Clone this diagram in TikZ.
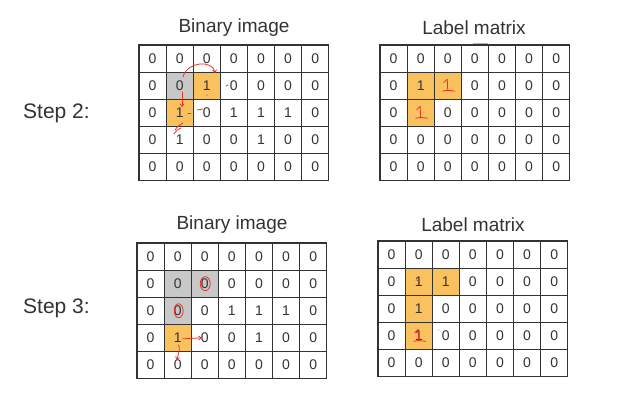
\documentclass[tikz,border=0pt]{standalone}
\usepackage{fontspec}
\setmainfont{Liberation Sans}
\usetikzlibrary{arrows.meta}
\definecolor{cellorange}{HTML}{FAC25E}
\definecolor{cellgray}{HTML}{C8C8C8}
\definecolor{annot}{HTML}{E5322B}
\definecolor{txt}{HTML}{333333}
\newcommand\cs{27.1}
\newcommand\drawgrid[4]{%
  \foreach \rowdata [count=\rr from 0] in {#4} {
    \foreach \vv [count=\cc from 0] in \rowdata {
      \node[cellnum] (#1-\rr-\cc) at ({#2+(\cc+0.5)*\cs},{#3+(\rr+0.5)*\cs}) {\vv};
    }
  }
  \foreach \ii in {0,...,7} \draw[gridline] ({#2+\ii*\cs},#3) -- ({#2+\ii*\cs},{#3+5*\cs});
  \foreach \jj in {0,...,5} \draw[gridline] ({#2-0.6},{#3+\jj*\cs}) -- ({#2+7*\cs+0.6},{#3+\jj*\cs});
}
\newcommand\fillcell[5]{% x0, y0, row, col, color
  \fill[#5] ({#1+#4*\cs},{#2+#3*\cs}) rectangle ({#1+(#4+1)*\cs},{#2+(#3+1)*\cs});
}
% handwritten red "1" centred on a named node
\newcommand\handone[1]{%
  \draw[scribble] ([shift={(-4,-3)}]#1.center) -- ([shift={(-0.5,-6.5)}]#1.center) -- ([shift={(0,5)}]#1.center);
  \draw[scribble] ([shift={(-5,5.5)}]#1.center) .. controls ([shift={(0,4.5)}]#1.center) .. ([shift={(7,5.5)}]#1.center);
}
\begin{document}
\begin{tikzpicture}[x=1pt,y=-1pt,
  cellnum/.style={font=\fontsize{14}{14}\selectfont, text=txt, inner sep=0pt},
  gridline/.style={draw=black!80, line width=1.2pt},
  title/.style={font=\fontsize{19}{19}\selectfont, text=txt, inner sep=0pt},
  steplabel/.style={font=\fontsize{21}{21}\selectfont, text=txt, inner sep=0pt, anchor=west},
  scribble/.style={draw=annot, line width=0.8pt, line cap=round, line join=round},
  scribblearrow/.style={scribble, -{Straight Barb[length=2.5pt,width=4pt]}}]
\path[use as bounding box, fill=white] (0,0) rectangle (625,392);

% titles and step labels
\node[title] (t1) at (234,28) {Binary image};
\node[title] (t2) at (474,28) {Label matrix};
\node[title] (t3) at (232,225) {Binary image};
\node[title] (t4) at (473,225) {Label matrix};
\node[steplabel] (s2) at (23,113) {Step 2:};
\node[steplabel] (s3) at (23,308) {Step 3:};

% ---------- Step 2, binary image ----------
\fillcell{139}{45}{1}{1}{cellgray}
\fillcell{139}{45}{1}{2}{cellorange}
\fillcell{139}{45}{2}{1}{cellorange}
\drawgrid{A}{139}{45}{{0,0,0,0,0,0,0},{0,0,1,0,0,0,0},{0,1,0,1,1,1,0},{0,1,0,0,1,0,0},{0,0,0,0,0,0,0}}

% ---------- Step 2, label matrix ----------
\fillcell{380}{45}{1}{1}{cellorange}
\fillcell{380}{45}{1}{2}{cellorange}
\fillcell{380}{45}{2}{1}{cellorange}
\drawgrid{B}{380}{45}{{0,0,0,0,0,0,0},{0,1,{},0,0,0,0},{0,{},0,0,0,0,0},{0,0,0,0,0,0,0},{0,0,0,0,0,0,0}}

% ---------- Step 3, binary image ----------
\fillcell{137}{243}{1}{1}{cellgray}
\fillcell{137}{243}{1}{2}{cellgray}
\fillcell{137}{243}{2}{1}{cellgray}
\fillcell{137}{243}{3}{1}{cellorange}
\drawgrid{C}{137}{243}{{0,0,0,0,0,0,0},{0,0,0,0,0,0,0},{0,0,0,1,1,1,0},{0,1,0,0,1,0,0},{0,0,0,0,0,0,0}}

% ---------- Step 3, label matrix ----------
\fillcell{378}{241}{1}{1}{cellorange}
\fillcell{378}{241}{1}{2}{cellorange}
\fillcell{378}{241}{2}{1}{cellorange}
\fillcell{378}{241}{3}{1}{cellorange}
\drawgrid{D}{378}{241}{{0,0,0,0,0,0,0},{0,1,1,0,0,0,0},{0,1,0,0,0,0,0},{0,1,0,0,0,0,0},{0,0,0,0,0,0,0}}

% ---------- hand-drawn annotations ----------
% step 2 binary image
\coordinate (a1) at (183,77);
\coordinate (a2) at (215,73);
\draw[scribblearrow] (a1) .. controls (187,61) and (213,60) .. (a2);
\coordinate (a3) at (182,92);
\coordinate (a4) at (182,107);
\draw[scribblearrow] (a3) -- (a4);
\coordinate (a5) at (188,113);
\coordinate (a6) at (191,113);
\draw[scribble] (a5) -- (a6);
\coordinate (a7) at (197,110);
\coordinate (a8) at (203,109);
\draw[scribble] (a7) -- (a8);
\coordinate (a9) at (175,130);
\coordinate (a10) at (183,123);
\draw[scribble] (a9) .. controls (178,126) .. (a10);
\coordinate (a11) at (174,134);
\coordinate (a12) at (181,128);
\draw[scribble] (a11) .. controls (177,130) .. (a12);
\coordinate (a13) at (226,86);
\coordinate (a14) at (228,85);
\draw[scribble] (a13) -- (a14);
\fill[annot] (207,95) circle (0.6);
% step 2 label matrix
\handone{B-1-2}
\handone{B-2-1}
\coordinate (b1) at (473,43);
\coordinate (b2) at (488,43);
\draw[draw=annot!50, line width=1pt] (b1) -- (b2);
\fill[annot] (450,105) circle (0.5);
% step 3 binary image
\draw[scribble] ([shift={(0.5,0)}]C-1-2.center) ellipse (5 and 7);
\draw[scribble] ([shift={(1,0)}]C-2-1.center) ellipse (4.5 and 7);
\draw[scribblearrow] ([shift={(5,1)}]C-3-1.center) -- ([shift={(-3,0)}]C-3-2.center);
\draw[scribblearrow] ([shift={(1,7)}]C-3-1.center) .. controls ([shift={(2,12)}]C-3-1.center) .. ([shift={(-1,-5)}]C-4-1.center);
% step 3 label matrix
\draw[scribble] ([shift={(-2,-2)}]D-1-1.center) -- ([shift={(1,1)}]D-1-1.center);
\handone{D-3-1}
\fill[annot] ([shift={(-7,-6)}]D-3-2.center) circle (0.5);
\end{tikzpicture}
\end{document}
